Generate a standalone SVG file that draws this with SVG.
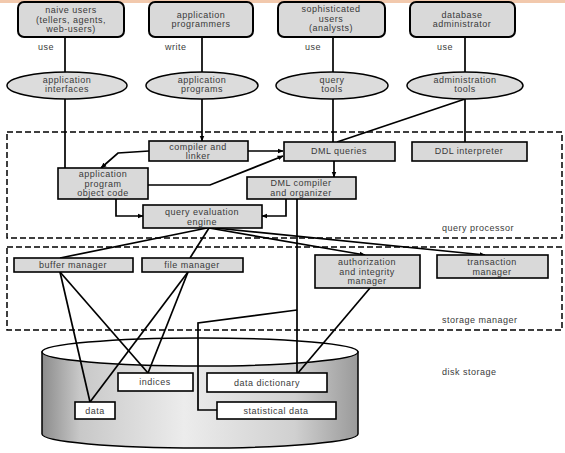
<svg xmlns="http://www.w3.org/2000/svg" width="565" height="453" viewBox="0 0 565 453">
<style>
text{font-family:"Liberation Sans",Arial,sans-serif;font-size:9px;fill:#3a3a3a;letter-spacing:0.5px;text-anchor:middle}
.lbl{text-anchor:start}
.top{fill:#d9d9d9;stroke:#000;stroke-width:2}
.box{fill:#d9d9d9;stroke:#000;stroke-width:1.6}
.wbox{fill:#fff;stroke:#000;stroke-width:1.6}
.ell{fill:#dcdcdc;stroke:#000;stroke-width:1.5}
.frame{fill:none;stroke:#000;stroke-width:1.5;stroke-dasharray:6 3}
.ln{fill:none;stroke:#000;stroke-width:1.7}
.ar{marker-end:url(#arr)}
</style>
<defs>
<marker id="arr" viewBox="0 0 10 10" refX="9" refY="5" markerWidth="6" markerHeight="6" orient="auto" markerUnits="userSpaceOnUse">
<path d="M0,1 L10,5 L0,9 Z" fill="#000"/>
</marker>
<linearGradient id="cyl" x1="0" y1="0" x2="1" y2="0">
<stop offset="0" stop-color="#8c8c8c"/>
<stop offset="0.12" stop-color="#c8c8c8"/>
<stop offset="0.45" stop-color="#ececec"/>
<stop offset="0.8" stop-color="#d0d0d0"/>
<stop offset="1" stop-color="#9a9a9a"/>
</linearGradient>
</defs>
<rect x="0" y="0" width="565" height="3" fill="#f2c9ad"/>

<g id="disk-storage">
<path d="M42,352 L42,434 A158,14 0 0 0 358,434 L358,352 Z" fill="url(#cyl)" stroke="#000" stroke-width="1.5"/>
<ellipse cx="200" cy="352" rx="158" ry="14" fill="#fff" stroke="#000" stroke-width="1.5"/>
<text class="lbl" x="442" y="375">disk storage</text>
</g>

<g id="query-processor">
<rect class="frame" x="7" y="132" width="555" height="106"/>
<text class="lbl" x="442" y="231">query processor</text>
</g>
<g id="storage-manager">
<rect class="frame" x="7" y="247" width="555" height="83"/>
<text class="lbl" x="442" y="323">storage manager</text>
</g>

<g id="connectors">
<text class="lbl" x="38" y="50">use</text>
<text class="lbl" x="165" y="50">write</text>
<text class="lbl" x="305" y="50">use</text>
<text class="lbl" x="437" y="50">use</text>
<line class="ln" x1="65" y1="37" x2="65" y2="72"/>
<line class="ln" x1="202" y1="37" x2="202" y2="72"/>
<line class="ln" x1="333" y1="37" x2="333" y2="72"/>
<line class="ln" x1="465" y1="37" x2="465" y2="72"/>
<line class="ln" x1="65" y1="99" x2="65" y2="168"/>
<line class="ln ar" x1="202" y1="99" x2="202" y2="141"/>
<line class="ln" x1="333" y1="99" x2="333" y2="142"/>
<line class="ln" x1="465" y1="99" x2="465" y2="142"/>
<line class="ln" x1="465" y1="99" x2="337" y2="142"/>
<line class="ln ar" x1="248" y1="151" x2="283" y2="151"/>
<polyline class="ln ar" points="149,151 118,153 101,168"/>
<polyline class="ln ar" points="148,185 210,185 283,156"/>
<polyline class="ln ar" points="116,199 116,216 143,216"/>
<polyline class="ln ar" points="286,199 286,216 262,216"/>
<line class="ln ar" x1="334" y1="161" x2="334" y2="177"/>
<line class="ln" x1="297" y1="199" x2="297" y2="373"/>
<polyline class="ln" points="297,310 198,323 198,410 217,410"/>
<line class="ln" x1="207" y1="228" x2="60" y2="258"/>
<line class="ln" x1="209" y1="228" x2="190" y2="258"/>
<line class="ln ar" x1="209" y1="228" x2="365" y2="255"/>
<line class="ln ar" x1="215" y1="228" x2="485" y2="255"/>
<line class="ln" x1="60" y1="272" x2="90" y2="402"/>
<line class="ln" x1="60" y1="272" x2="148" y2="373"/>
<line class="ln" x1="188" y1="272" x2="90" y2="402"/>
<line class="ln" x1="188" y1="272" x2="148" y2="373"/>
<line class="ln" x1="370" y1="288" x2="298" y2="373"/>
</g>

<g id="naive-users">
<rect class="top" x="18" y="2" width="106" height="35" rx="6"/>
<text x="71" y="13">naive users</text>
<text x="71" y="23">(tellers, agents,</text>
<text x="71" y="32">web-users)</text>
</g>
<g id="application-programmers">
<rect class="top" x="149" y="2" width="104" height="35" rx="6"/>
<text x="201" y="18">application</text>
<text x="201" y="27">programmers</text>
</g>
<g id="sophisticated-users">
<rect class="top" x="278" y="2" width="107" height="35" rx="6"/>
<text x="331" y="12">sophisticated</text>
<text x="331" y="22">users</text>
<text x="331" y="31">(analysts)</text>
</g>
<g id="database-administrator">
<rect class="top" x="410" y="2" width="105" height="35" rx="6"/>
<text x="462" y="18">database</text>
<text x="462" y="27">administrator</text>
</g>

<g id="application-interfaces">
<ellipse class="ell" cx="67" cy="85.5" rx="60" ry="13.5"/>
<text x="67" y="83">application</text>
<text x="67" y="92">interfaces</text>
</g>
<g id="application-programs">
<ellipse class="ell" cx="202" cy="85.5" rx="56" ry="13.5"/>
<text x="202" y="83">application</text>
<text x="202" y="92">programs</text>
</g>
<g id="query-tools">
<ellipse class="ell" cx="332" cy="85.5" rx="56" ry="13.5"/>
<text x="332" y="83">query</text>
<text x="332" y="92">tools</text>
</g>
<g id="administration-tools">
<ellipse class="ell" cx="465" cy="85.5" rx="58" ry="13.5"/>
<text x="465" y="83">administration</text>
<text x="465" y="92">tools</text>
</g>

<g id="compiler-and-linker">
<rect class="box" x="149" y="141" width="99" height="20"/>
<text x="198" y="150">compiler and</text>
<text x="198" y="159">linker</text>
</g>
<g id="dml-queries">
<rect class="box" x="284" y="142" width="111" height="19"/>
<text x="339" y="154">DML queries</text>
</g>
<g id="ddl-interpreter">
<rect class="box" x="412" y="142" width="115" height="19"/>
<text x="469" y="154">DDL interpreter</text>
</g>
<g id="application-program-object-code">
<rect class="box" x="58" y="168" width="90" height="31"/>
<text x="103" y="177">application</text>
<text x="103" y="186.5">program</text>
<text x="103" y="196">object code</text>
</g>
<g id="dml-compiler-and-organizer">
<rect class="box" x="247" y="177" width="109" height="22"/>
<text x="301" y="186">DML compiler</text>
<text x="301" y="195.5">and organizer</text>
</g>
<g id="query-evaluation-engine">
<rect class="box" x="143" y="205" width="119" height="23"/>
<text x="202" y="215">query evaluation</text>
<text x="202" y="225">engine</text>
</g>

<g id="buffer-manager">
<rect class="box" x="14" y="258" width="119" height="14"/>
<text x="73" y="268">buffer manager</text>
</g>
<g id="file-manager">
<rect class="box" x="142" y="258" width="101" height="14"/>
<text x="192" y="268">file manager</text>
</g>
<g id="authorization-and-integrity-manager">
<rect class="box" x="315" y="255" width="105" height="33"/>
<text x="367" y="265">authorization</text>
<text x="367" y="274.5">and integrity</text>
<text x="367" y="284">manager</text>
</g>
<g id="transaction-manager">
<rect class="box" x="437" y="255" width="111" height="23"/>
<text x="492" y="265">transaction</text>
<text x="492" y="274.5">manager</text>
</g>

<g id="indices">
<rect class="wbox" x="118" y="373" width="75" height="18"/>
<text x="155" y="385">indices</text>
</g>
<g id="data-dictionary">
<rect class="wbox" x="207" y="373" width="120" height="19"/>
<text x="267" y="385.5">data dictionary</text>
</g>
<g id="data">
<rect class="wbox" x="75" y="402" width="40" height="17"/>
<text x="95" y="413.5">data</text>
</g>
<g id="statistical-data">
<rect class="wbox" x="217" y="402" width="119" height="17"/>
<text x="276" y="413.5">statistical data</text>
</g>
</svg>
